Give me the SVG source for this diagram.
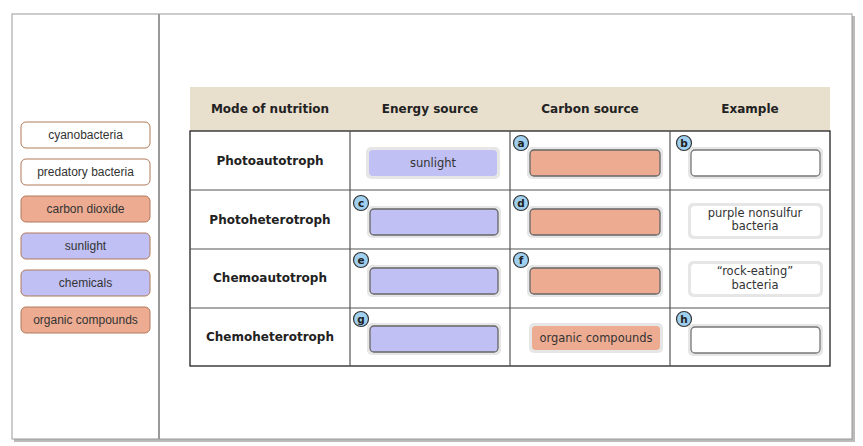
<svg xmlns="http://www.w3.org/2000/svg" width="863" height="446" viewBox="0 0 863 446">
<style>
.hd{font-family:"DejaVu Sans",sans-serif;font-weight:bold;font-size:12px;fill:#222;text-anchor:middle}
.it{font-family:"Liberation Sans",Arial,sans-serif;font-size:12px;fill:#333;text-anchor:middle}
.bx{font-family:"DejaVu Sans",sans-serif;font-size:11.5px;fill:#333;text-anchor:middle}
.halo{fill:#e6e6e6}
.blue{fill:#c0c0f4;stroke:#666;stroke-width:1.3}
.red{fill:#edac92;stroke:#666;stroke-width:1.3}
.wh{fill:#fff;stroke:#777;stroke-width:1.3}
.lw{fill:#fff;stroke:#b07a5a;stroke-width:1}
.lr{fill:#edac92;stroke:#b07a5a;stroke-width:1}
.lb{fill:#c0c0f4;stroke:#b07a5a;stroke-width:1}
.bd{fill:#9fd0ef;stroke:#333;stroke-width:1.2}
.bt{font-family:"DejaVu Sans",sans-serif;font-weight:bold;font-size:10.5px;fill:#222;text-anchor:middle}
.ln{stroke:#555;stroke-width:1.2}
</style>
<rect x="0" y="0" width="863" height="446" fill="#fff"/>
<rect x="14" y="16" width="841" height="426" fill="#bbb"/>
<rect x="12" y="14" width="840" height="425" fill="#fff" stroke="#999" stroke-width="1"/>
<line x1="159" y1="14" x2="159" y2="439" stroke="#999" stroke-width="2"/>
<g id="bank">
<g id="i1"><rect class="lw" x="21" y="122" width="129" height="26" rx="5"/><text class="it" x="85.5" y="139">cyanobacteria</text></g>
<g id="i2"><rect class="lw" x="21" y="159" width="129" height="26" rx="5"/><text class="it" x="85.5" y="176">predatory bacteria</text></g>
<g id="i3"><rect class="lr" x="21" y="196" width="129" height="26" rx="5"/><text class="it" x="85.5" y="213">carbon dioxide</text></g>
<g id="i4"><rect class="lb" x="21" y="233" width="129" height="26" rx="5"/><text class="it" x="85.5" y="250">sunlight</text></g>
<g id="i5"><rect class="lb" x="21" y="270" width="129" height="26" rx="5"/><text class="it" x="85.5" y="287">chemicals</text></g>
<g id="i6"><rect class="lr" x="21" y="307" width="129" height="26" rx="5"/><text class="it" x="85.5" y="324">organic compounds</text></g>
</g>
<g id="table">
<rect x="190" y="87" width="640" height="44" fill="#e9dfcd"/>
<rect x="190" y="131" width="640" height="235" fill="#fff" stroke="#222" stroke-width="1.3"/>
<line class="ln" x1="190" y1="190" x2="830" y2="190"/>
<line class="ln" x1="190" y1="249" x2="830" y2="249"/>
<line class="ln" x1="190" y1="308" x2="830" y2="308"/>
<line class="ln" x1="350" y1="131" x2="350" y2="366"/>
<line class="ln" x1="510" y1="131" x2="510" y2="366"/>
<line class="ln" x1="670" y1="131" x2="670" y2="366"/>
<text class="hd" x="270" y="113">Mode of nutrition</text>
<text class="hd" x="430" y="113">Energy source</text>
<text class="hd" x="590" y="113">Carbon source</text>
<text class="hd" x="750" y="113">Example</text>
<text class="hd" x="270" y="165">Photoautotroph</text>
<text class="hd" x="270" y="224">Photoheterotroph</text>
<text class="hd" x="270" y="282">Chemoautotroph</text>
<text class="hd" x="270" y="341">Chemoheterotroph</text>
</g>
<g id="cells">
<rect class="halo" x="366" y="147" width="134" height="32" rx="5"/><rect x="369" y="150" width="128" height="26" rx="4" fill="#c0c0f4"/><text class="bx" x="433" y="167">sunlight</text>
<rect class="halo" x="527" y="147" width="136" height="32" rx="5"/><rect class="red" x="530" y="150" width="130" height="26" rx="4"/>
<rect class="halo" x="688" y="147" width="135" height="32" rx="5"/><rect class="wh" x="691" y="150" width="129" height="26" rx="4"/>
<rect class="halo" x="367" y="206" width="134" height="32" rx="5"/><rect class="blue" x="370" y="209" width="128" height="26" rx="4"/>
<rect class="halo" x="527" y="206" width="136" height="32" rx="5"/><rect class="red" x="530" y="209" width="130" height="26" rx="4"/>
<rect class="halo" x="688" y="203" width="135" height="36" rx="5"/><rect x="691" y="206" width="129" height="30" rx="4" fill="#fff"/>
<text class="bx" x="755" y="217">purple nonsulfur</text><text class="bx" x="755" y="230">bacteria</text>
<rect class="halo" x="367" y="265" width="134" height="32" rx="5"/><rect class="blue" x="370" y="268" width="128" height="26" rx="4"/>
<rect class="halo" x="527" y="265" width="136" height="32" rx="5"/><rect class="red" x="530" y="268" width="130" height="26" rx="4"/>
<rect class="halo" x="688" y="261" width="135" height="36" rx="5"/><rect x="691" y="264" width="129" height="30" rx="4" fill="#fff"/>
<text class="bx" x="755" y="275">“rock-eating”</text><text class="bx" x="755" y="289">bacteria</text>
<rect class="halo" x="367" y="323" width="134" height="32" rx="5"/><rect class="blue" x="370" y="326" width="128" height="26" rx="4"/>
<rect class="halo" x="529" y="323" width="134" height="30" rx="5"/><rect x="532" y="326" width="128" height="24" rx="4" fill="#edac92"/><text class="bx" x="596" y="342">organic compounds</text>
<rect class="halo" x="688" y="324" width="135" height="32" rx="5"/><rect class="wh" x="691" y="327" width="129" height="26" rx="4"/>
</g>
<g id="badges">
<circle class="bd" cx="521" cy="143" r="7.5"/><text class="bt" x="521" y="147">a</text>
<circle class="bd" cx="684" cy="143" r="7.5"/><text class="bt" x="684" y="147">b</text>
<circle class="bd" cx="361" cy="203" r="7.5"/><text class="bt" x="361" y="207">c</text>
<circle class="bd" cx="521" cy="203" r="7.5"/><text class="bt" x="521" y="207">d</text>
<circle class="bd" cx="361" cy="260" r="7.5"/><text class="bt" x="361" y="264">e</text>
<circle class="bd" cx="521" cy="260" r="7.5"/><text class="bt" x="521" y="264">f</text>
<circle class="bd" cx="361" cy="319" r="7.5"/><text class="bt" x="361" y="323">g</text>
<circle class="bd" cx="684" cy="319" r="7.5"/><text class="bt" x="684" y="323">h</text>
</g>
</svg>
